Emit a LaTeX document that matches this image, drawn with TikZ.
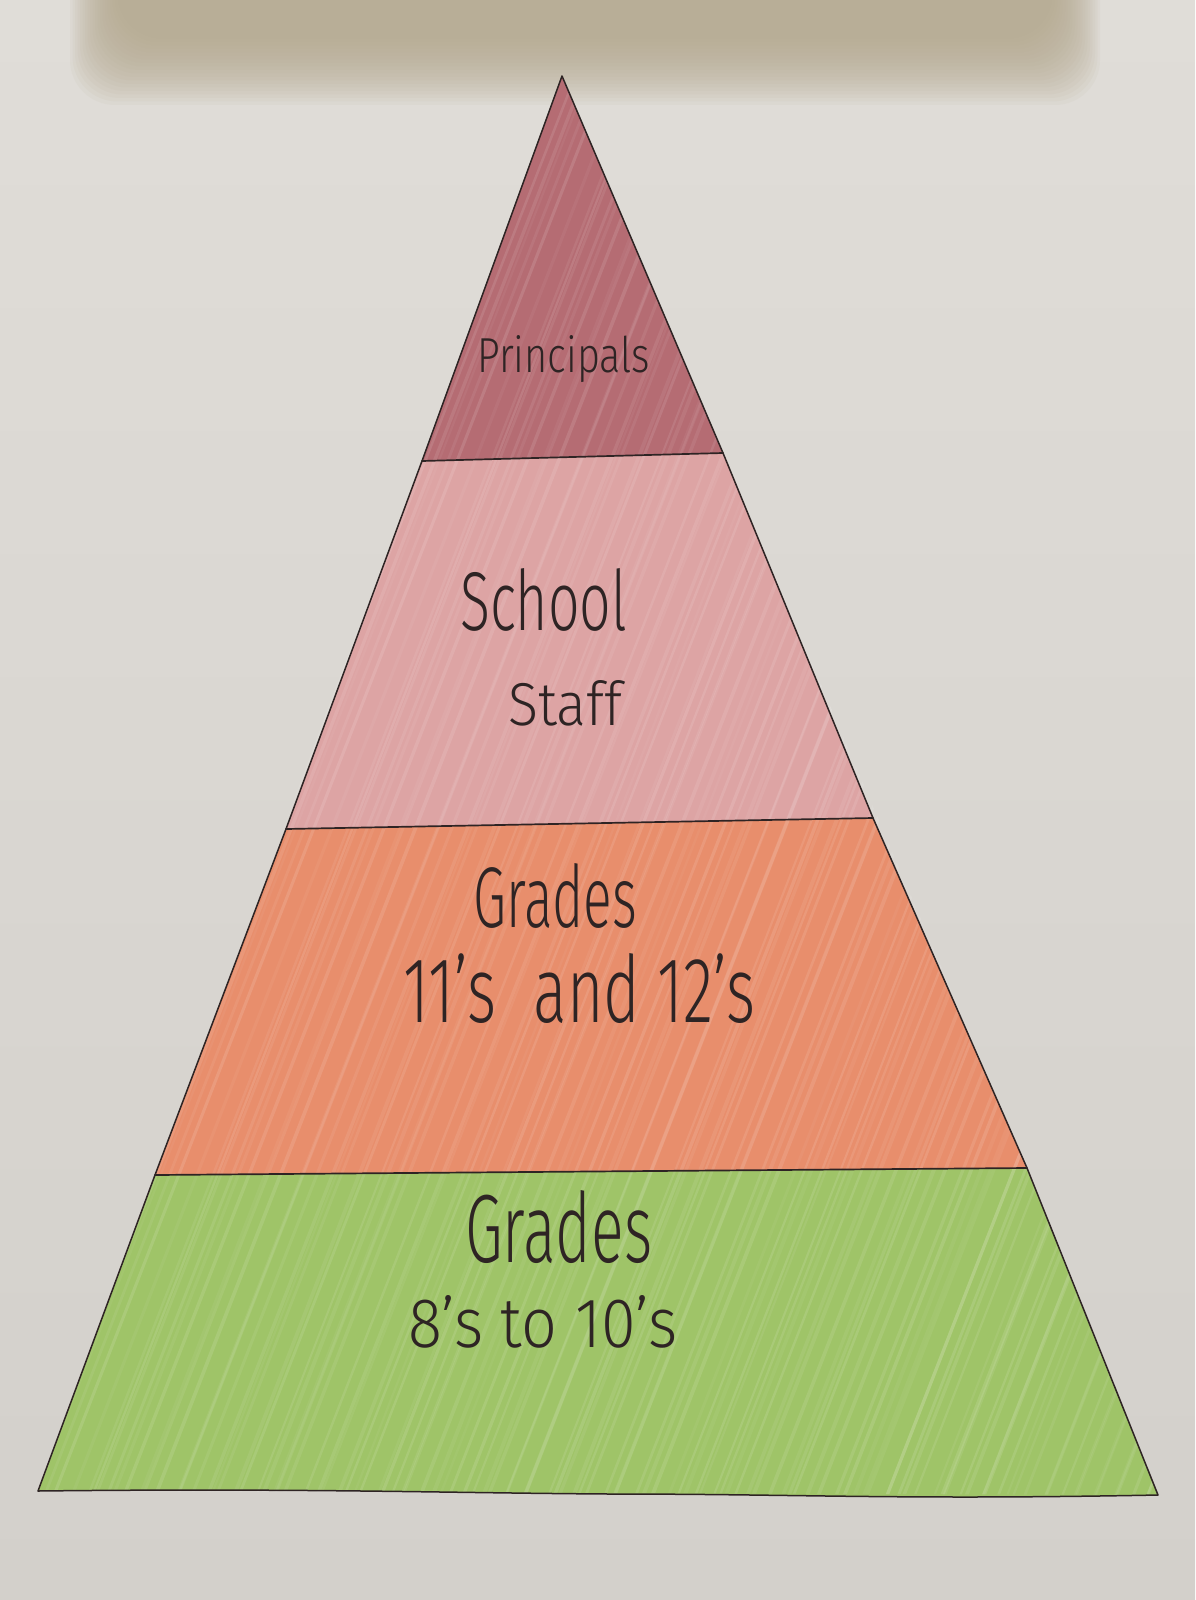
\documentclass[tikz,border=0pt]{standalone}
\usepackage{fontspec}
\setmainfont{Fira Sans Light}
\usetikzlibrary{calc}
\definecolor{paper}{HTML}{D3D0CB}
\definecolor{paperlight}{HTML}{E0DDD8}
\definecolor{shadow}{HTML}{B3A78C}
\definecolor{bandA}{HTML}{B56C73}
\definecolor{bandB}{HTML}{DDA4A4}
\definecolor{bandC}{HTML}{E88E6C}
\definecolor{bandD}{HTML}{9FC468}
\definecolor{ink}{HTML}{2E2424}
\tikzset{
  outline/.style={draw=ink, line width=1.5pt, line join=round},
  divider/.style={draw=ink, line width=1.7pt, line cap=round},
  label/.style={inner sep=0pt, anchor=base west, text=ink},
}
\newcommand{\fitText}[3]{\resizebox{#1pt}{#2pt}{#3}}
\begin{document}
\begin{tikzpicture}[x=1pt,y=-1pt]
\pgfmathsetseed{7}
\useasboundingbox (0,0) rectangle (1195,1600);
% paper
\fill[top color=paperlight, bottom color=paper] (0,0) rectangle (1195,1600);
% blurred shadow at top
\foreach \i in {0,...,19}{
  \fill[shadow, opacity=0.075, rounded corners=45pt]
    ({70+2.5*\i},-60) rectangle ({1100-2.5*\i},{105-3.5*\i});
}
% corner points
\coordinate (apex) at (562,76);
\coordinate (L1) at (422,461);
\coordinate (R1) at (723,453);
\coordinate (L2) at (286,829);
\coordinate (R2) at (873,818);
\coordinate (L3) at (155,1175);
\coordinate (R3) at (1027,1168);
\coordinate (BL) at (38,1491);
\coordinate (BR) at (1158,1495);
% bands
\fill[bandA] (apex) -- (R1) -- (L1) -- cycle;
\fill[bandB] (L1) -- (R1) -- (R2) -- (L2) -- cycle;
\fill[bandC] (L2) -- (R2) -- (R3) -- (L3) -- cycle;
\fill[bandD] (L3) -- (R3) -- (BR) .. controls (900,1500) and (800,1494) .. (610,1494)
  .. controls (450,1493) and (300,1488) .. (BL) -- cycle;
% pencil texture
\begin{scope}
  \clip (apex) -- (R3) -- (BR) -- (BL) -- (L3) -- cycle;
  \foreach \k in {0,...,160}{
    \pgfmathsetmacro{\xs}{-350+\k*10+8*rand}
    \pgfmathsetmacro{\lw}{2+2*rnd}
    \pgfmathsetmacro{\op}{0.04+0.08*rnd}
    \draw[white, opacity=\op, line width=\lw pt] (\xs,1600) -- ({\xs+600},60);
  }
\end{scope}
% outline
\draw[outline] (BL) -- (L3) -- (L2) -- (L1) -- (apex) -- (R1) -- (R2) -- (R3) -- (BR)
  .. controls (900,1500) and (800,1494) .. (610,1494)
  .. controls (450,1493) and (300,1488) .. (BL) -- cycle;
% dividers
\draw[divider] (L1) -- (R1);
\draw[divider] (L2) -- (R2);
\draw[divider] (L3) -- (R3);
% labels
\node[label] (principals) at (477,372) {\fitText{173}{37}{Principals}};
\node[label] (school) at (460,630) {\fitText{167}{62}{School}};
\node[label] (staff) at (508,725) {\fitText{114}{45}{Staff}};
\node[label] (gradesA) at (473,927) {\fitText{164}{64}{Grades}};
\node[label] (senior) at (403,1022) {\fitText{352}{69}{11’s\hspace{0.6em}and 12’s}};
\node[label] (gradesB) at (465,1262) {\fitText{187}{72}{Grades}};
\node[label] (junior) at (408,1347) {\fitText{269}{52}{8’s to 10’s}};
\end{tikzpicture}
\end{document}
